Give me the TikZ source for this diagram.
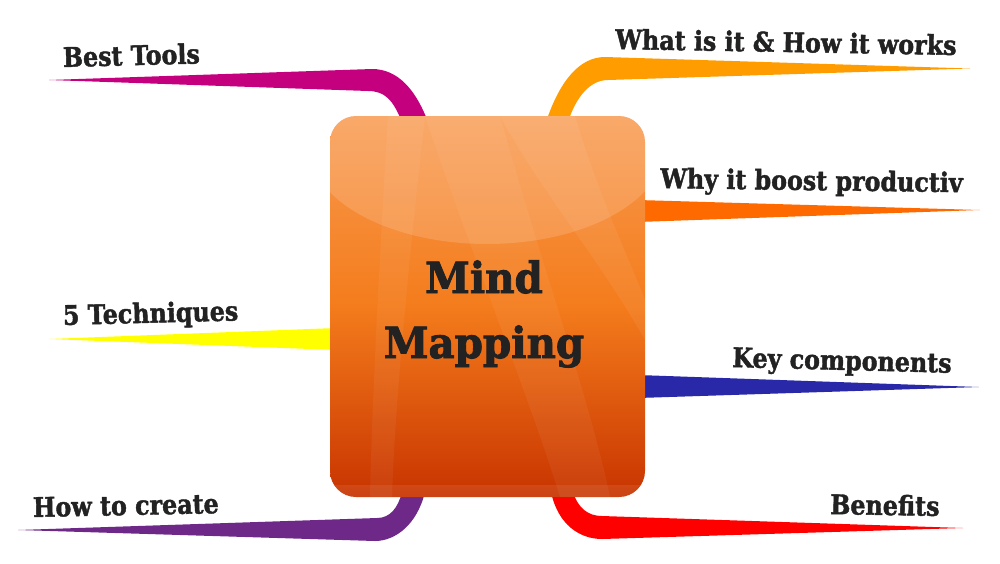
\documentclass[tikz,border=0pt]{standalone}
\usepackage{fontspec}
\newfontfamily\slab[FakeStretch=0.88,FakeBold=1.6]{DejaVu Serif}
\newfontfamily\slabbig[FakeStretch=0.94,FakeBold=2]{DejaVu Serif}
\definecolor{txt}{HTML}{222222}
\definecolor{cBest}{HTML}{C5007F}
\definecolor{cWhat}{HTML}{FF9C00}
\definecolor{cWhy}{HTML}{FF6A00}
\definecolor{cFive}{HTML}{FFFF00}
\definecolor{cKey}{HTML}{2828A8}
\definecolor{cHow}{HTML}{6E2888}
\definecolor{cBen}{HTML}{FF0000}
\definecolor{boxTop}{HTML}{F89A50}
\definecolor{boxMid}{HTML}{F47C1C}
\definecolor{boxBot}{HTML}{C83400}
\begin{document}
\begin{tikzpicture}[x=1pt,y=-1pt,
  lbl/.style={font=\slab\bfseries\fontsize{27}{30}\selectfont, text=txt, inner sep=0pt, anchor=base west},
  branch/.style={line join=round}]
\useasboundingbox (0,0) rectangle (1000,563);
% named anchor points of the branches
\coordinate (bestTip) at (49,80);
\coordinate (whatTip) at (970,68.5);
\coordinate (whyTip) at (980,210);
\coordinate (fiveTip) at (49,339);
\coordinate (keyTip) at (979,387);
\coordinate (howTip) at (18,530);
\coordinate (benTip) at (963,528);
% branches
\fill[cBest, branch] (bestTip) -- (372,69) .. controls (398,69) and (416,90) .. (428,122) -- (402,122) .. controls (393,100) and (385,91) .. (368,91) -- cycle;
\fill[cWhat, branch] (whatTip) -- (605,57) .. controls (580,57) and (560,80) .. (546,122) -- (568,122) .. controls (576,97) and (590,80) .. (608,80) -- cycle;
\fill[cWhy, branch] (638,200) -- (whyTip) -- (638,222) -- cycle;
\fill[cFive, branch] (fiveTip) -- (336,328) -- (336,350) -- cycle;
\fill[cKey, branch] (638,375) -- (keyTip) -- (638,398) -- cycle;
\fill[cHow, branch] (howTip) -- (377,518) .. controls (390,518) and (398,508) .. (402,492) -- (425,492) .. controls (417,525) and (395,541) .. (375,541) -- cycle;
\fill[cBen, branch] (benTip) -- (602,516) .. controls (588,516) and (578,508) .. (573,492) -- (551,492) .. controls (558,525) and (580,539) .. (602,539) -- cycle;
% central box
\shade[rounded corners=26pt, top color=boxTop, bottom color=boxBot, middle color=boxMid] (330,116) rectangle (645,497);
\begin{scope}
  \clip[rounded corners=26pt] (330,116) rectangle (645,497);
  \fill[white, opacity=0.15] (487,146) ellipse [x radius=178, y radius=98];
  \fill[white, opacity=0.05] (388,116) -- (425,116) .. controls (410,250) and (395,400) .. (392,497) -- (370,497) .. controls (372,400) and (380,250) .. (388,116) -- cycle;
  \fill[white, opacity=0.05] (425,116) -- (500,116) .. controls (540,260) and (590,400) .. (610,497) -- (560,497) .. controls (530,400) and (470,250) .. (425,116) -- cycle;
  \fill[white, opacity=0.06] (500,116) -- (575,116) .. controls (600,200) and (630,260) .. (645,300) -- (645,340) .. controls (600,260) and (540,190) .. (500,116) -- cycle;
  \fill[white, opacity=0.08] (330,485) rectangle (645,497);
\end{scope}
\node[font=\slabbig\bfseries\fontsize{43}{65}\selectfont, text=txt, align=center, inner sep=0pt] (center) at (484,314) {Mind\\Mapping};
% labels
\node[lbl, rotate=1.5] (best) at (63,67) {Best Tools};
\node[lbl, rotate=-1] (what) at (615,49) {What is it \& How it works};
\node[lbl, rotate=-0.8] (why) at (660,188) {Why it boost productiv};
\node[lbl, rotate=1.5] (five) at (63,325) {5 Techniques};
\node[lbl, rotate=-1.5] (key) at (732,367) {Key components};
\node[lbl, rotate=1.2] (how) at (33,517) {How to create};
\node[lbl, rotate=-1] (ben) at (830,514) {Benefits};
\end{tikzpicture}
\end{document}
